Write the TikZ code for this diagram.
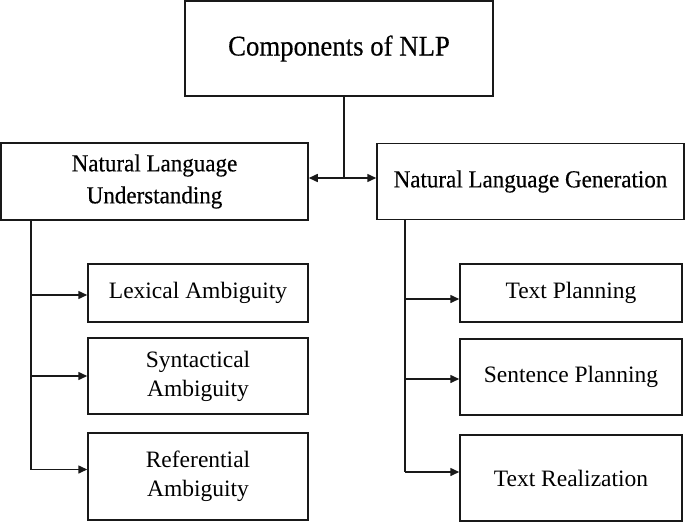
\documentclass[tikz,border=0pt]{standalone}
\usepackage{fontspec}
\setmainfont{Liberation Serif}
\newfontfamily\headfont[FakeStretch=0.94,FakeBold=0.4]{Liberation Serif}
\usetikzlibrary{arrows.meta}
\tikzset{
  box/.style={draw=black!90, line width=1.5pt, inner sep=0pt, align=center,
              font=\fontsize{23.5}{29}\selectfont},
  headbox/.style={box, font=\headfont\fontsize{24.5}{32}\selectfont},
  link/.style={draw=black!90, line width=1.5pt},
  arr/.style={link, -{Triangle[length=9pt,width=8pt]}},
}
\begin{document}
\begin{tikzpicture}[x=1pt,y=-1pt]
    \useasboundingbox (0,0) rectangle (685,522);
    % top level
    \node[box, minimum width=308pt, minimum height=95pt,
          font=\headfont\fontsize{28.5}{34}\selectfont] (nlp) at (339,48.5) {Components of NLP};
    \node[headbox, minimum width=307pt, minimum height=77pt] (nlu) at (154.5,181.5)
        {Natural Language\\Understanding};
    \node[headbox, minimum width=307pt, minimum height=76pt] (nlg) at (530.5,181.5)
        {Natural Language Generation};
    % understanding branch
    \node[box, minimum width=220pt, minimum height=58pt] (lex) at (198,293) {Lexical Ambiguity};
    \node[box, minimum width=220pt, minimum height=76pt] (syn) at (198,376) {Syntactical\\Ambiguity};
    \node[box, minimum width=220pt, minimum height=87pt] (ref) at (198,476.5) {Referential\\Ambiguity};
    % generation branch
    \node[box, minimum width=222pt, minimum height=58pt] (tpl) at (571,293) {Text Planning};
    \node[box, minimum width=222pt, minimum height=76pt] (spl) at (571,377) {Sentence Planning};
    \node[box, minimum width=222pt, minimum height=86pt] (trl) at (571,478) {Text Realization};
    \coordinate (hub) at (344,178);
    \coordinate (ltrunk) at (31,0);
    \coordinate (rtrunk) at (405,0);
    \draw[link] (nlp.south -| hub) -- (hub);
    \draw[arr] (hub) -- (nlu.east |- hub);
    \draw[arr] (hub) -- (nlg.west |- hub);
    \draw[link] (nlu.south -| ltrunk) -- ([yshift=7pt]ref.west -| ltrunk);
    \draw[arr] ([yshift=-2pt]lex.west -| ltrunk) -- ([yshift=-2pt]lex.west);
    \draw[arr] (syn.west -| ltrunk) -- (syn.west);
    \draw[arr] ([yshift=7pt]ref.west -| ltrunk) -- ([yshift=7pt]ref.west);
    \draw[link] (nlg.south -| rtrunk) -- ([yshift=6pt]trl.west -| rtrunk);
    \draw[arr] ([yshift=-6pt]tpl.west -| rtrunk) -- ([yshift=-6pt]tpl.west);
    \draw[arr] ([yshift=-2pt]spl.west -| rtrunk) -- ([yshift=-2pt]spl.west);
    \draw[arr] ([yshift=6pt]trl.west -| rtrunk) -- ([yshift=6pt]trl.west);
\end{tikzpicture}
\end{document}
